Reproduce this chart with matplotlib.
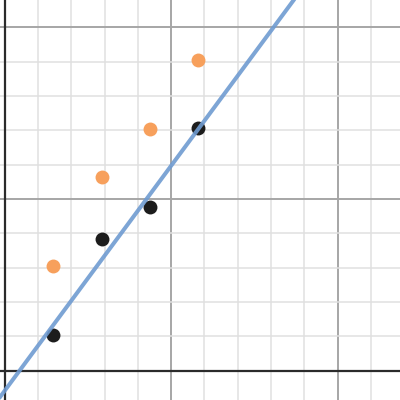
import numpy as np
import matplotlib
matplotlib.use("Agg")
import matplotlib.pyplot as plt

# data (grid units: 1 per minor grid line)
x_vals = [1.46, 2.91, 4.35, 5.81]
y_black = [1.04, 3.84, 4.78, 7.06]
y_orange = [3.06, 5.64, 7.05, 9.04]

fig = plt.figure(figsize=(4, 4), dpi=100)
ax = fig.add_axes([0, 0, 1, 1])
xmin, xmax = -0.14, 11.87
ymin, ymax = -0.853, 10.8
ax.set_xlim(xmin, xmax)
ax.set_ylim(ymin, ymax)

# grid
for gx in range(0, 12):
    if gx == 0:
        continue
    major = gx % 5 == 0
    ax.axvline(gx, color="#a6a6a6" if major else "#e0e0e0", lw=1.4 if major else 1.1, zorder=1)
for gy in range(0, 11):
    if gy == 0:
        continue
    major = gy % 5 == 0
    ax.axhline(gy, color="#a6a6a6" if major else "#e0e0e0", lw=1.4 if major else 1.1, zorder=1)
ax.axvline(0, color="#2b2b2b", lw=1.6, zorder=2)
ax.axhline(0, color="#2b2b2b", lw=1.6, zorder=2)

# points
ax.plot(x_vals, y_orange, "o", color="#f7a05c", ms=10, mec="none", zorder=3)
ax.plot(x_vals, y_black, "o", color="#1c1c1c", ms=10, mec="none", zorder=3)

# regression line of black points
m, b = np.polyfit(x_vals, y_black, 1)
xs = np.array([xmin - 1, xmax + 1])
ax.plot(xs, m * xs + b, color="#6f9bd1", lw=2.9, alpha=0.9, solid_capstyle="butt", zorder=4)

ax.set_xticks([])
ax.set_yticks([])
for s in ax.spines.values():
    s.set_visible(False)

fig.savefig("out.png", dpi=100)
